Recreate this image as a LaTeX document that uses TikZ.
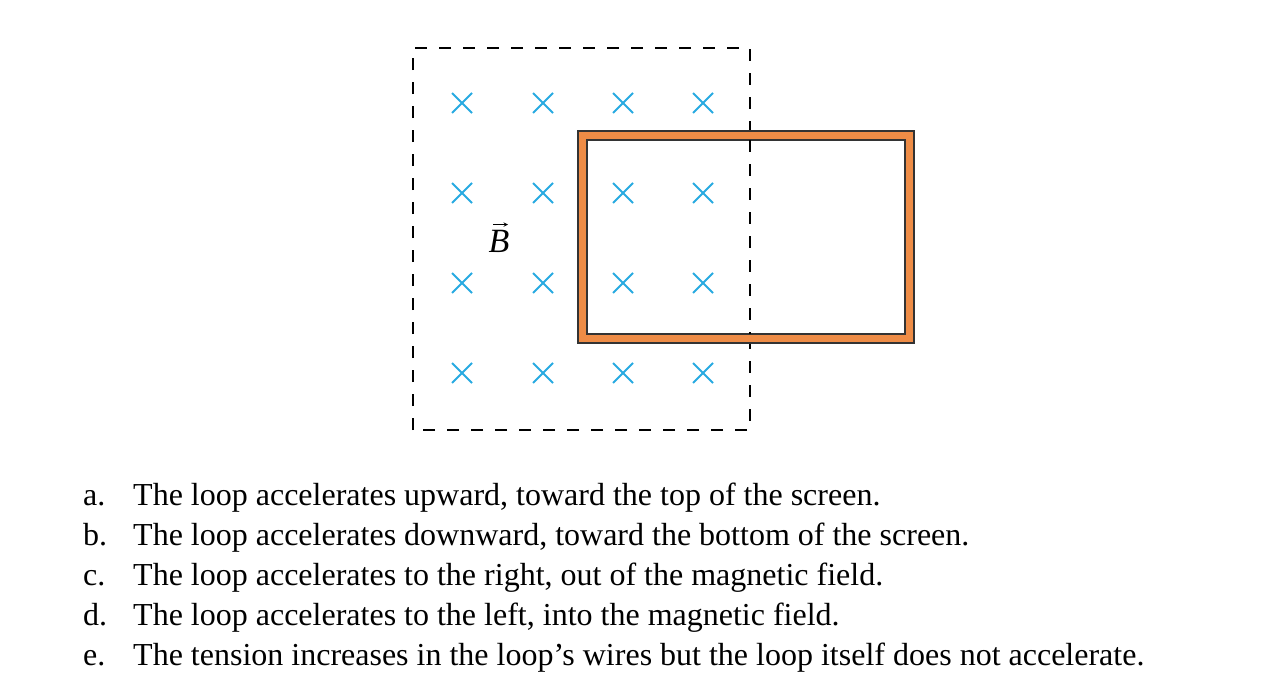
\documentclass[tikz,border=0pt]{standalone}
\usepackage{fontspec}
\setmainfont{Liberation Serif}
\definecolor{cx}{RGB}{40,170,225}
\definecolor{lo}{RGB}{238,140,70}
\tikzset{cross/.style={cx,line width=2pt},
  fieldbox/.style={black,line width=1.6pt,dash pattern=on 12pt off 12pt},
  item/.style={anchor=base west,inner sep=0pt,font=\fontsize{32}{36}\selectfont}}
\begin{document}
\begin{tikzpicture}[x=1pt,y=-1pt]
\useasboundingbox (0,0) rectangle (1262,696);
\draw[fieldbox] (413,430) -- (413,48) -- (750,48) -- (750,430) -- cycle;
\foreach \i in {462,543,623,703}{\foreach \j in {103,193,283,373}{
  \draw[cross] (\i-10,\j-10) -- (\i+10,\j+10) (\i-10,\j+10) -- (\i+10,\j-10);}}
\node[inner sep=0pt,font=\fontsize{34}{36}\selectfont\itshape] (B) at (499,241) {B};
\draw[-stealth,line width=1pt] ([xshift=-6pt,yshift=5pt]B.north) -- ([xshift=9pt,yshift=5pt]B.north);
\fill[lo] (578,131) rectangle (914,343);
\fill[white] (587,140) rectangle (905,334);
\draw[black!80,line width=1.3pt] (578,131) rectangle (914,343) (587,140) rectangle (905,334);
\draw[fieldbox] (750,140) -- (750,334);
\draw[cross] (613,183) -- (633,203) (613,203) -- (633,183) (693,183) -- (713,203) (693,203) -- (713,183)
  (613,273) -- (633,293) (613,293) -- (633,273) (693,273) -- (713,293) (693,293) -- (713,273);
\foreach \l/\t [count=\k] in {a./{The loop accelerates upward, toward the top of the screen.},
 b./{The loop accelerates downward, toward the bottom of the screen.},
 c./{The loop accelerates to the right, out of the magnetic field.},
 d./{The loop accelerates to the left, into the magnetic field.},
 e./{The tension increases in the loop’s wires but the loop itself does not accelerate.}}{
 \node[item] (l\k) at (83,{465+40*\k}) {\l};
 \node[item] (t\k) at (133,{465+40*\k}) {\t};}
\end{tikzpicture}
\end{document}
